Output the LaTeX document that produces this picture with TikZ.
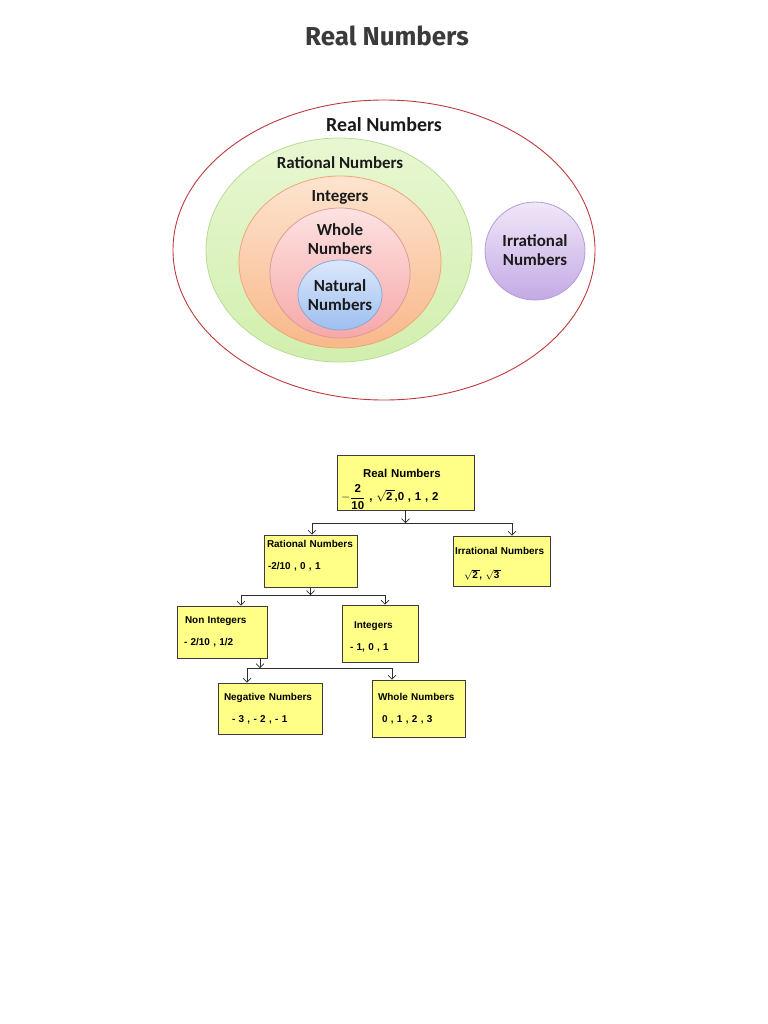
\documentclass[tikz,border=0pt]{standalone}
\usepackage{amsmath}
\usepackage{fontspec}
\setmainfont{Liberation Sans}
\newfontfamily\vennfont{Carlito}
\newfontfamily\headfont{Fira Sans}
\usetikzlibrary{arrows.meta,shadows}
\definecolor{headgray}{HTML}{3A3A3A}
\definecolor{venntext}{HTML}{1A1A1A}
\definecolor{realred}{HTML}{C0393B}
\definecolor{ratline}{HTML}{B9DC95}
\definecolor{rattop}{HTML}{E8F7D2}
\definecolor{ratbot}{HTML}{D2EFAE}
\definecolor{intline}{HTML}{EFA678}
\definecolor{inttop}{HTML}{FDE4CF}
\definecolor{intbot}{HTML}{F8B88A}
\definecolor{wholeline}{HTML}{DE9A9A}
\definecolor{wholetop}{HTML}{FDE2E2}
\definecolor{wholebot}{HTML}{F7A8A8}
\definecolor{natline}{HTML}{86A9DA}
\definecolor{nattop}{HTML}{DCE8FB}
\definecolor{natbot}{HTML}{9EBFF0}
\definecolor{irrline}{HTML}{B39CD6}
\definecolor{irrtop}{HTML}{F0E7F9}
\definecolor{irrbot}{HTML}{C4AAE4}
\definecolor{boxfill}{HTML}{FFFF88}
\definecolor{boxline}{HTML}{3C3C3C}
\definecolor{wiregray}{HTML}{2E2E2E}
\tikzset{
  pagetitle/.style={font=\headfont\bfseries\fontsize{26}{30}\selectfont,text=headgray},
  vennlabel/.style={font=\vennfont\bfseries\fontsize{17}{19}\selectfont,
                    align=center,text=venntext,inner sep=0pt},
  realring/.style={draw=realred,line width=0.9pt,fill=white},
  ratring/.style={draw=ratline,line width=0.8pt,top color=rattop,bottom color=ratbot},
  intring/.style={draw=intline,line width=0.8pt,top color=inttop,bottom color=intbot},
  wholering/.style={draw=wholeline,line width=0.8pt,top color=wholetop,bottom color=wholebot},
  natring/.style={draw=natline,line width=0.8pt,top color=nattop,bottom color=natbot},
  irrring/.style={draw=irrline,line width=0.8pt,top color=irrtop,bottom color=irrbot},
  numbox/.style={draw=boxline,fill=boxfill,line width=0.7pt,
                 align=left,inner xsep=2bp,inner ysep=0pt,
                 font=\bfseries\fontsize{10}{22}\selectfont,
                 drop shadow={shadow xshift=1.2bp,shadow yshift=-1.2bp,fill=black!45}},
  treewire/.style={line width=0.7pt,draw=wiregray},
  treearr/.style={-{Straight Barb[length=4bp,width=8bp]},line width=0.7pt,draw=wiregray}
}
\newcommand{\rootof}[1]{$\sqrt{\textbf{#1}\,}$}

\begin{document}
\begin{tikzpicture}[x=1bp,y=-1bp]
  \fill[white] (0,0) rectangle (768,1024);
  \useasboundingbox (0,0) rectangle (768,1024);
  \node[pagetitle] (title) at (387,36) {Real Numbers};

  % nested sets
  \draw[realring] (384,250) ellipse [x radius=211bp,y radius=150bp];
  \draw[ratring] (339,250) ellipse [x radius=133bp,y radius=112bp];
  \draw[intring] (340,262) ellipse [x radius=101bp,y radius=86bp];
  \draw[wholering] (340,273) ellipse [x radius=70bp,y radius=65bp];
  \draw[natring] (340,295) ellipse [x radius=42bp,y radius=35bp];
  \draw[irrring] (535,251) ellipse [x radius=50bp,y radius=49bp];
  \node[vennlabel,font=\vennfont\bfseries\fontsize{20}{22}\selectfont] (realtxt) at (384,125) {Real Numbers};
  \node[vennlabel] (rattxt) at (340,163) {Rational Numbers};
  \node[vennlabel] (inttxt) at (340,197) {Integers};
  \node[vennlabel] (wholetxt) at (340,239) {Whole\\Numbers};
  \node[vennlabel] (nattxt) at (340,295) {Natural\\Numbers};
  \node[vennlabel] (irrtxt) at (535,250) {Irrational\\Numbers};

  % tree of the number sets
  \node[numbox,text width=133bp,minimum height=55bp,font=\bfseries\fontsize{11.5}{23}\selectfont] (real) at (405.5,482.5)
    {\rule{0pt}{22bp}\hspace*{24bp}Real Numbers\\\hspace*{2bp}$-\dfrac{\textbf{2}}{\textbf{10}}$ , \rootof{2},0 , 1 , 2};
  \node[numbox,text width=89bp,minimum height=52bp] (rational) at (310.5,561)
    {\hspace*{1bp}Rational Numbers\\\hspace*{2bp}-2/10 , 0 , 1\rule[-12bp]{0pt}{0pt}};
  \node[numbox,text width=93bp,minimum height=50bp] (irrational) at (501.5,561)
    {\rule{0pt}{13bp}Irrational Numbers\\[2bp]\hspace*{9bp}\rootof{2}, \rootof{3}};
  \node[numbox,text width=86bp,minimum height=52bp] (nonint) at (222,632)
    {\hspace*{6bp}Non Integers\\\hspace*{5bp}- 2/10 , 1/2};
  \node[numbox,text width=72bp,minimum height=57bp] (integers) at (380,633.5)
    {\rule{0pt}{13.5bp}\hspace*{10bp}Integers\\\hspace*{6bp}- 1, 0 , 1};
  \node[numbox,text width=100bp,minimum height=51bp] (negative) at (270,708.5)
    {\hspace*{4bp}Negative Numbers\\\hspace*{12bp}- 3 , - 2 , - 1};
  \node[numbox,text width=89bp,minimum height=57bp] (whole) at (418.5,708.5)
    {\hspace*{4bp}Whole Numbers\\\hspace*{8bp}0 , 1 , 2 , 3};

  \coordinate (realbus) at (405.5,523);
  \coordinate (realbusL) at (312,523);
  \coordinate (realbusR) at (512,523);
  \draw[treearr] (real.south) -- (realbus);
  \draw[treewire] (realbusL) -- (realbusR);
  \draw[treearr] (realbusL) -- (realbusL |- rational.north);
  \draw[treearr] (realbusR) -- (realbusR |- irrational.north);

  \coordinate (ratbus) at (310.5,595);
  \coordinate (ratbusL) at (241,595);
  \coordinate (ratbusR) at (385,595);
  \draw[treearr] (rational.south) -- (ratbus);
  \draw[treewire] (ratbusL) -- (ratbusR);
  \draw[treearr] (ratbusL) -- (ratbusL |- nonint.north);
  \draw[treearr] (ratbusR) -- (ratbusR |- integers.north);

  \coordinate (nibus) at (260,668);
  \coordinate (nibusL) at (247,668);
  \coordinate (nibusR) at (392,668);
  \draw[treearr] (nibus |- nonint.south) -- (nibus);
  \draw[treewire] (nibusL) -- (nibusR);
  \draw[treearr] (nibusL) -- (nibusL |- negative.north);
  \draw[treearr] (nibusR) -- (nibusR |- whole.north);
\end{tikzpicture}
\end{document}
